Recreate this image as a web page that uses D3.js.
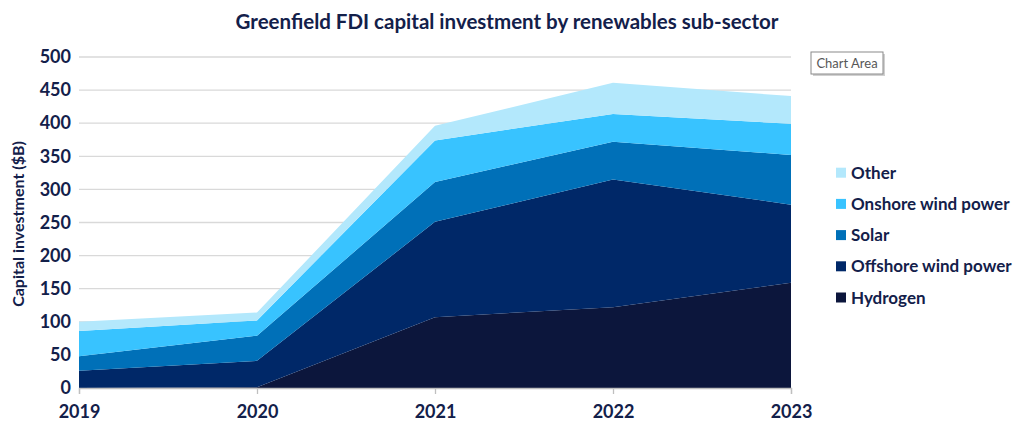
<!DOCTYPE html>
<html><head><meta charset="utf-8">
<script src="https://cdn.jsdelivr.net/npm/d3@7"></script>
<style>
html,body{margin:0;padding:0;background:#fff;}
svg{display:block;}
text{font-family:Lato,"Open Sans",sans-serif;}
</style></head>
<body>
<svg id="c" width="1024" height="431"></svg>
<script>
const years = ["2019","2020","2021","2022","2023"];
const seriesNames = ["Hydrogen","Offshore wind power","Solar","Onshore wind power","Other"];
const hydrogen = [0, 1, 107, 122, 159];
const offshore = [26, 40, 144, 193, 118];
const solar = [22, 38, 60, 57, 75];
const onshore = [38, 23, 63, 42, 47];
const other = [14, 12, 22, 47, 42];
const colors = ["#0c163c","#002868","#0070b8","#38c3ff","#b3e8fc"];
const yTicks = [0,50,100,150,200,250,300,350,400,450,500];

const svg = d3.select("#c");
const textColor = "#13204a";
const data = years.map((y,i)=>({year:y, "Hydrogen":hydrogen[i], "Offshore wind power":offshore[i], "Solar":solar[i], "Onshore wind power":onshore[i], "Other":other[i]}));
const stack = d3.stack().keys(seriesNames)(data);

const x = d3.scalePoint().domain(years).range([79,791]);
const y = d3.scaleLinear().domain([0,500]).range([388,57]);

// gridlines
svg.append("g").selectAll("line").data(yTicks.filter(d=>d>0)).join("line")
  .attr("x1",79).attr("x2",791).attr("y1",d=>y(d)).attr("y2",d=>y(d))
  .attr("stroke","#d9d9d9").attr("stroke-width",1.3);

const area = d3.area().x((d,i)=>x(years[i])).y0(d=>y(d[0])).y1(d=>y(d[1]));
svg.append("g").selectAll("path").data(stack).join("path")
  .attr("d",area).attr("fill",(d,i)=>colors[i]);

// x axis
const xa = svg.append("g").attr("transform","translate(0,388)")
  .call(d3.axisBottom(x).tickSize(6).tickPadding(11));
xa.select(".domain").attr("stroke","#bfbfbf").attr("stroke-width",1.3);
xa.selectAll(".tick line").attr("stroke","#bfbfbf").attr("stroke-width",1.3);
xa.selectAll("text").attr("fill",textColor).attr("font-size",18).attr("font-weight","bold");

// y axis
const ya = svg.append("g").attr("transform","translate(71,0)")
  .call(d3.axisLeft(y).tickValues(yTicks).tickSize(0).tickPadding(0));
ya.select(".domain").remove();
ya.selectAll("text").attr("fill",textColor).attr("font-size",18).attr("font-weight","bold");

// y title
svg.append("text").attr("transform","translate(24,224) rotate(-90)")
  .attr("text-anchor","middle").attr("fill",textColor)
  .attr("font-size",16).attr("font-weight","bold").text("Capital investment ($B)");

// title
svg.append("text").attr("x",507).attr("y",29).attr("text-anchor","middle")
  .attr("fill",textColor).attr("font-size",20.5).attr("font-weight","bold")
  .text("Greenfield FDI capital investment by renewables sub-sector");

// legend
const legendOrder = seriesNames.slice().reverse();
const lg = svg.append("g").selectAll("g").data(legendOrder).join("g")
  .attr("transform",(d,i)=>`translate(836,${172.7+i*31.2})`);
lg.append("rect").attr("x",0).attr("y",-5).attr("width",10).attr("height",10)
  .attr("fill",d=>colors[seriesNames.indexOf(d)]);
lg.append("text").attr("x",15).attr("y",6).attr("fill",textColor)
  .attr("font-size",17).attr("font-weight","bold").text(d=>d);

// Chart Area tooltip
const tt = svg.append("g").attr("transform","translate(811,52)");
tt.append("rect").attr("x",2).attr("y",2).attr("width",72).attr("height",22).attr("fill","#d0d0d0");
tt.append("rect").attr("x",0).attr("y",0).attr("width",72).attr("height",22).attr("fill","#fff").attr("stroke","#8a8a8a");
tt.append("text").attr("x",36).attr("y",15.5).attr("text-anchor","middle").attr("fill","#575757")
  .attr("font-size",13).text("Chart Area");
</script>
</body></html>
